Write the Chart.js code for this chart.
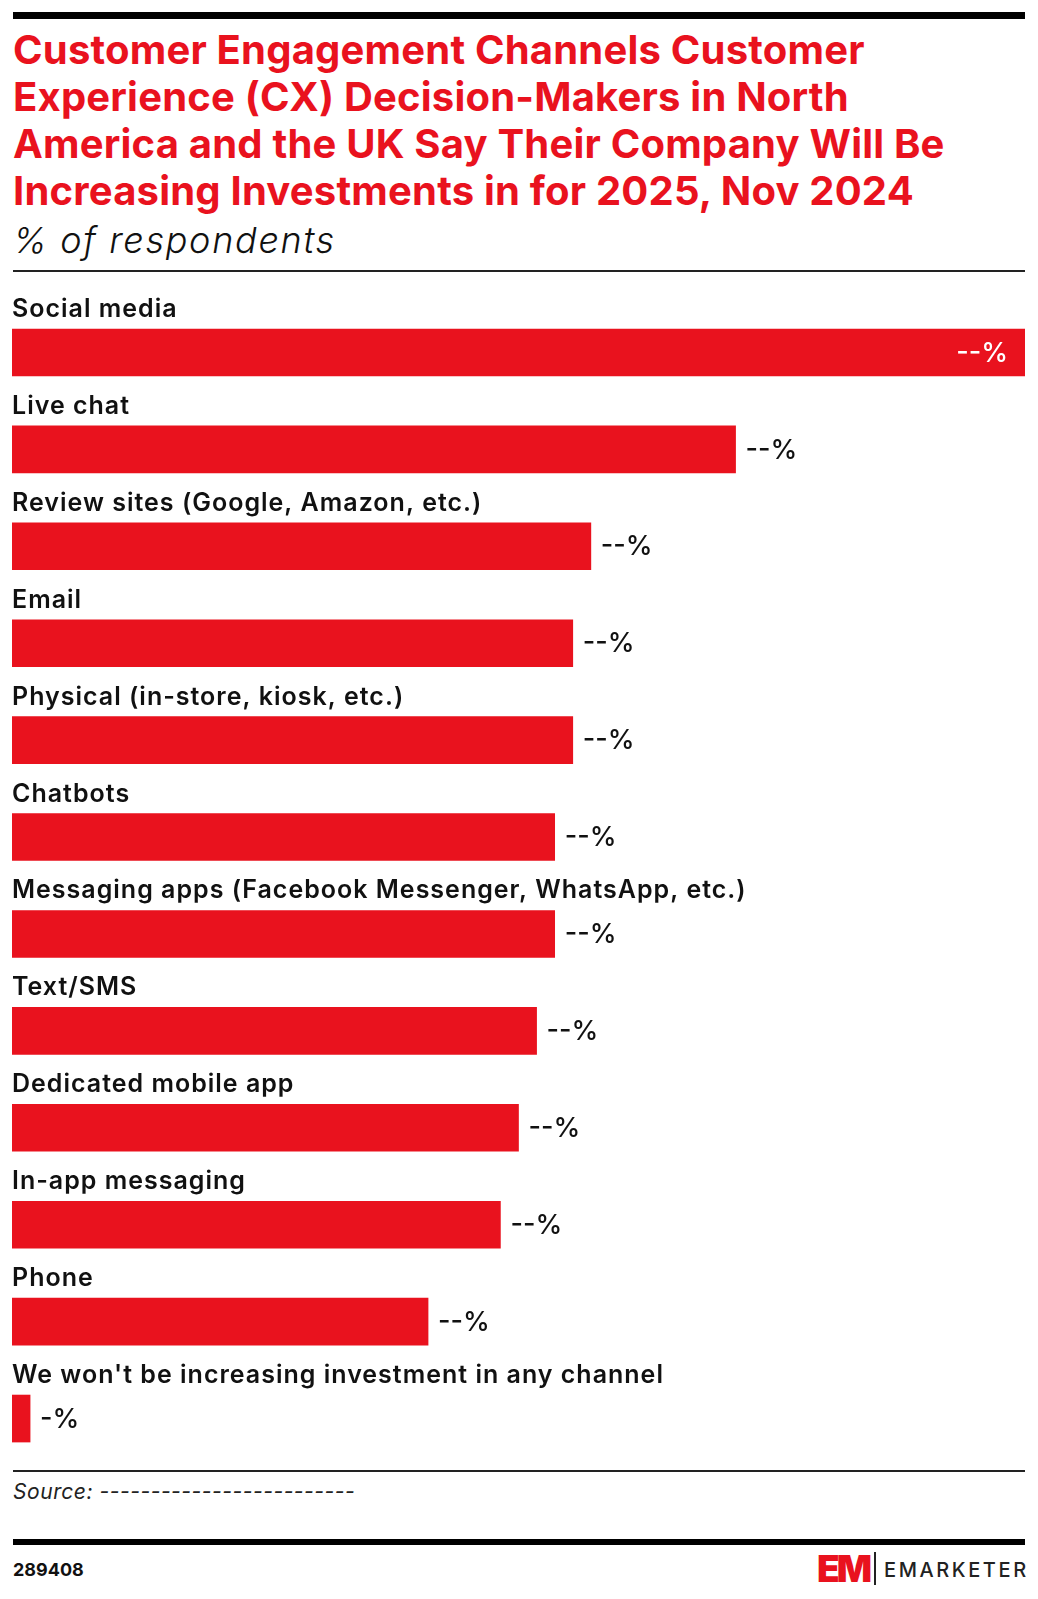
<!DOCTYPE html>
<html>
<head>
<meta charset="utf-8">
<script src="https://cdn.jsdelivr.net/npm/chart.js@4.4.1/dist/chart.umd.min.js"></script>
<style>
  body { margin: 0; background: #fff; width: 1038px; height: 1599px; position: relative; overflow: hidden; font-family: Inter, Roboto, sans-serif; }
  .abs { position: absolute; white-space: nowrap; }
  .rule { position: absolute; left: 13px; width: 1012px; background: #000; }
  #title { left: 13px; top: 26px; color: #e9121e; font-weight: 700; font-size: 40px; line-height: 47px; letter-spacing: 0.2px; }
  #subtitle { left: 13px; top: 220px; font-style: italic; font-weight: 300; font-size: 36px; line-height: 40px; letter-spacing: 1.7px; color: #111; }
  #source { left: 13px; top: 1479px; font-style: italic; font-weight: 400; font-size: 21px; line-height: 26px; letter-spacing: 0.55px; color: #222; }
  #chartId { left: 13px; top: 1559px; font-weight: 700; font-size: 18px; line-height: 22px; color: #111; }
  #chartWrap { left: 0; top: 280px; width: 1038px; height: 1190px; }
</style>
</head>
<body>
<div class="rule" style="top:12px;height:7px;"></div>
<div id="title" class="abs">Customer Engagement Channels Customer<br>Experience (CX) Decision-Makers in North<br>America and the UK Say Their Company Will Be<br>Increasing Investments in for 2025, Nov 2024</div>
<div id="subtitle" class="abs">% of respondents</div>
<div class="rule" style="top:270px;height:2px;background:#222;"></div>

<div id="chartWrap" class="abs"><canvas id="chart" width="1038" height="1190"></canvas></div>

<div class="rule" style="top:1470px;height:2px;background:#222;"></div>
<div id="source" class="abs">Source: -------------------------</div>
<div class="rule" style="top:1539px;height:6px;"></div>
<div id="chartId" class="abs">289408</div>

<!-- logo -->
<div class="abs" style="left:817px;top:1551px;font-weight:900;font-size:37px;line-height:36px;color:#e9121e;letter-spacing:-3px;">EM</div>
<div class="abs" style="left:874px;top:1552px;width:2px;height:33px;background:#222;"></div>
<div class="abs" style="left:884px;top:1558px;font-weight:500;font-size:20px;line-height:24px;letter-spacing:2.6px;color:#222;">EMARKETER</div>

<script>
// chart data
const categories = [
  "Social media",
  "Live chat",
  "Review sites (Google, Amazon, etc.)",
  "Email",
  "Physical (in-store, kiosk, etc.)",
  "Chatbots",
  "Messaging apps (Facebook Messenger, WhatsApp, etc.)",
  "Text/SMS",
  "Dedicated mobile app",
  "In-app messaging",
  "Phone",
  "We won't be increasing investment in any channel"
];
const values = [56, 40, 32, 31, 31, 30, 30, 29, 28, 27, 23, 1];
const valueLabels = ["--%", "--%", "--%", "--%", "--%", "--%", "--%", "--%", "--%", "--%", "--%", "-%"];
const xMax = 56;

const barColor = "#e9121e";

// draws the category name above each bar and the value label beside it
const labelPlugin = {
  id: "barLabels",
  afterDatasetsDraw(chart) {
    const ctx = chart.ctx;
    const area = chart.chartArea;
    const bars = chart.getDatasetMeta(0).data;
    ctx.save();
    bars.forEach((bar, i) => {
      const top = bar.y - bar.height / 2;
      ctx.font = "600 25px Inter";
      ctx.letterSpacing = "1px";
      ctx.fillStyle = "#111";
      ctx.textAlign = "left";
      ctx.textBaseline = "alphabetic";
      ctx.fillText(categories[i], area.left, top - 12);

      ctx.font = "500 27px Inter";
      ctx.letterSpacing = "0px";
      ctx.textBaseline = "middle";
      const w = ctx.measureText(valueLabels[i]).width;
      if (bar.x + 10 + w > area.right) {
        ctx.fillStyle = "#fff";
        ctx.textAlign = "right";
        ctx.fillText(valueLabels[i], bar.x - 17, bar.y + 1);
      } else {
        ctx.fillStyle = "#111";
        ctx.textAlign = "left";
        ctx.fillText(valueLabels[i], bar.x + 10, bar.y + 1);
      }
    });
    ctx.restore();
  }
};

new Chart(document.getElementById("chart"), {
  type: "bar",
  data: {
    labels: categories,
    datasets: [{
      data: values,
      backgroundColor: barColor,
      borderWidth: 0,
      barThickness: 47
    }]
  },
  options: {
    indexAxis: "y",
    responsive: false,
    animation: false,
    layout: { padding: { top: 24, bottom: 3, left: 12, right: 13 } },
    plugins: { legend: { display: false }, tooltip: { enabled: false } },
    scales: {
      x: { display: false, min: 0, max: xMax },
      y: { display: false }
    }
  },
  plugins: [labelPlugin]
});
</script>
</body>
</html>
